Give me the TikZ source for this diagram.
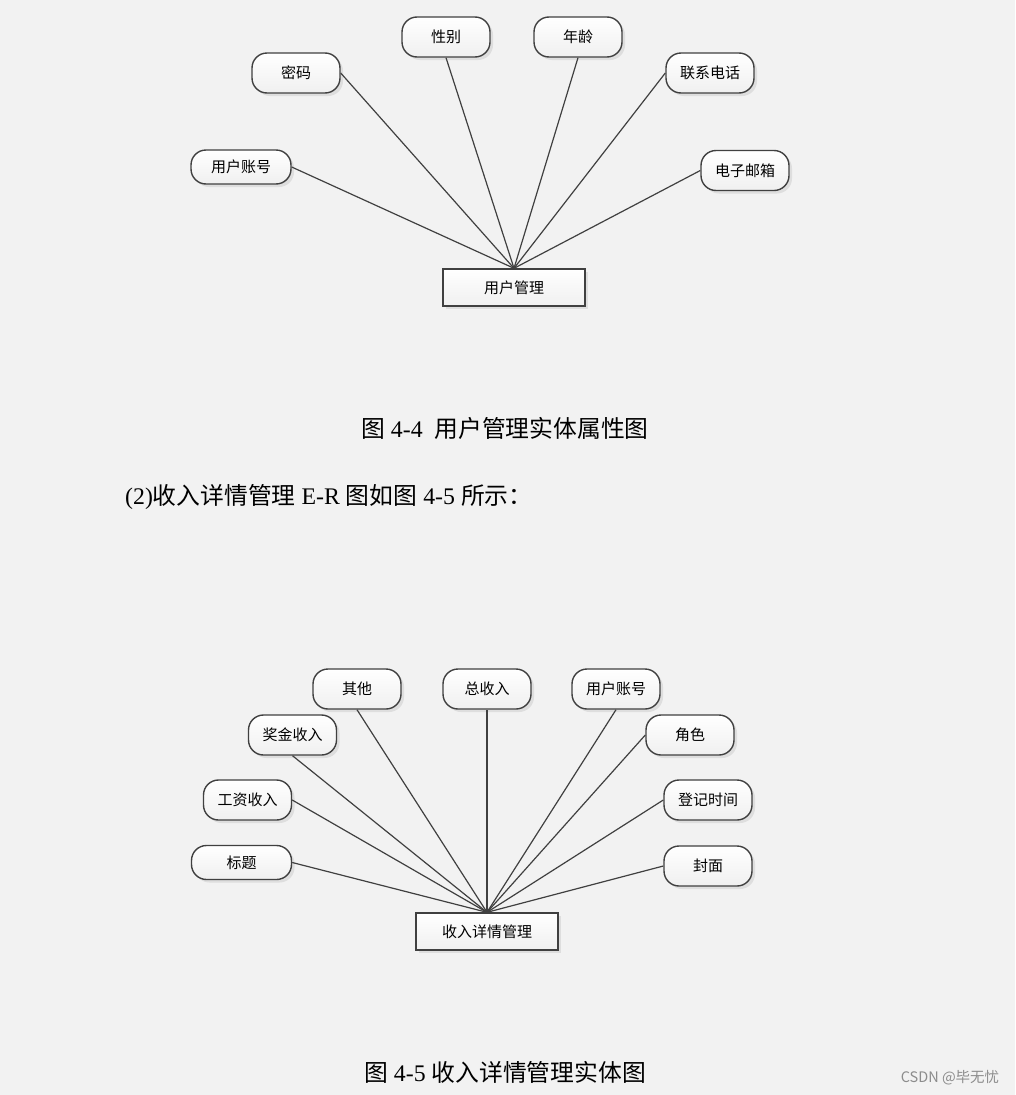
\documentclass[tikz,border=0pt]{standalone}
\usepackage{fontspec}
\setmainfont{Liberation Serif}
\newfontfamily\cjk{Noto Sans CJK SC}
\usetikzlibrary{shadows}
\definecolor{bgcol}{HTML}{F2F2F2}
\definecolor{edgecol}{HTML}{404040}
\tikzset{
  attrbox/.style={draw=edgecol, line width=1.4pt, rounded corners=15pt, minimum width=88pt, minimum height=40pt, inner sep=0pt,
    top color=white, bottom color=black!6, drop shadow={shadow xshift=3pt, shadow yshift=-3pt, fill=black!13, opacity=1},
    font=\cjk\fontsize{15}{18}\selectfont},
  entbox/.style={draw=edgecol, line width=1.4pt, minimum width=142pt, minimum height=37pt, inner sep=0pt,
    top color=white, bottom color=black!6, drop shadow={shadow xshift=3pt, shadow yshift=-3pt, fill=black!13, opacity=1},
    font=\cjk\fontsize{15}{18}\selectfont},
  eline/.style={draw=edgecol, line width=1.2pt},
  captext/.style={font=\fontsize{23.8}{28}\selectfont, inner sep=0pt},
}

\begin{document}
\begin{tikzpicture}[x=1pt, y=-1pt]
  \fill[bgcol] (0,0) rectangle (1015,1095);
  \useasboundingbox (0,0) rectangle (1015,1095);

  % user management
  \node[entbox]  (um)    at (514,287.5) {用户管理};
  \node[attrbox, minimum width=100pt, minimum height=34pt] (uacc) at (241,167) {用户账号};
  \node[attrbox] (pwd)   at (296,73)  {密码};
  \node[attrbox] (sex)   at (446,37)  {性别};
  \node[attrbox] (age)   at (578,37)  {年龄};
  \node[attrbox] (phone) at (710,73)  {联系电话};
  \node[attrbox] (mail)  at (745,170.5) {电子邮箱};

  \draw[eline] (um.north) -- (uacc.east);
  \draw[eline] (um.north) -- (pwd.east);
  \draw[eline] (um.north) -- (sex.south);
  \draw[eline] (um.north) -- (age.south);
  \draw[eline] (um.north) -- (phone.west);
  \draw[eline] (um.north) -- (mail.west);

  \node[captext] (cap1) at (505,428) {{\cjk 图} 4-4\ \ {\cjk 用户管理实体属性图}};
  \node[captext, anchor=west] (intro) at (125,497) {(2){\cjk 收入详情管理} E-R {\cjk 图如图} 4-5 {\cjk 所示：}};

  % income detail management
  \node[entbox]  (im)    at (487,931.5) {收入详情管理};
  \node[attrbox] (other) at (357,689) {其他};
  \node[attrbox] (total) at (487,689) {总收入};
  \node[attrbox] (iacc)  at (616,689) {用户账号};
  \node[attrbox] (bonus) at (292.5,735) {奖金收入};
  \node[attrbox] (role)  at (690,735) {角色};
  \node[attrbox] (wage)  at (247.5,800) {工资收入};
  \node[attrbox] (rtime) at (708,800) {登记时间};
  \node[attrbox, minimum width=100pt, minimum height=34pt] (title) at (241.5,862.5) {标题};
  \node[attrbox] (cover) at (708,866) {封面};

  \draw[eline] (im.north) -- (other.south);
  \draw[eline] (im.north) -- (total.south);
  \draw[eline] (im.north) -- (iacc.south);
  \draw[eline] (im.north) -- (bonus.south);
  \draw[eline] (im.north) -- (role.west);
  \draw[eline] (im.north) -- (wage.east);
  \draw[eline] (im.north) -- (rtime.west);
  \draw[eline] (im.north) -- (title.east);
  \draw[eline] (im.north) -- (cover.west);

  \node[captext] (cap2) at (505,1072) {{\cjk 图} 4-5 {\cjk 收入详情管理实体图}};
  \node[font=\cjk\fontsize{14.5}{17}\selectfont, text=black!45, inner sep=0pt] (mark) at (950,1078) {CSDN @毕无忧};
\end{tikzpicture}
\end{document}
